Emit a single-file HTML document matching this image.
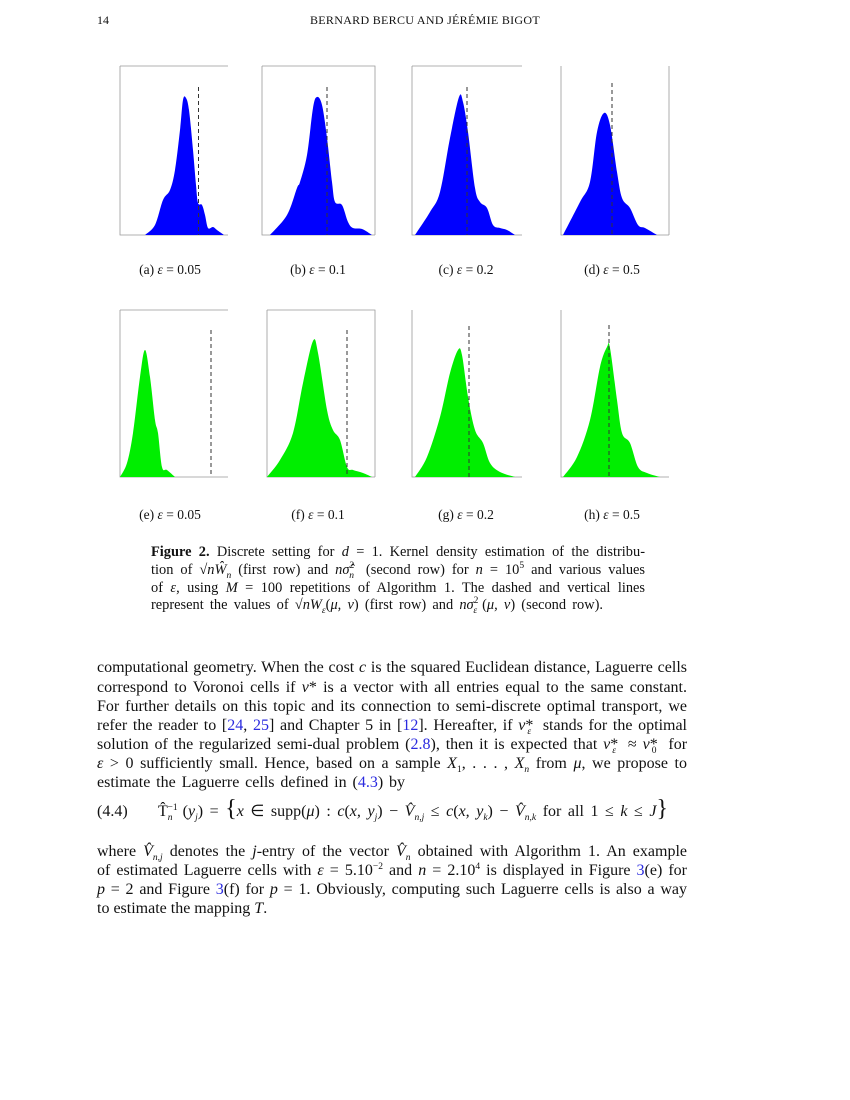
<!DOCTYPE html>
<html><head><meta charset="utf-8"><style>
body{margin:0;background:#fff;width:850px;height:1100px;position:relative;overflow:hidden;font-family:"Liberation Serif",serif;color:#111}
.l{position:absolute;left:97px;width:590px;font-size:16px;line-height:18px;white-space:nowrap;text-align:justify;text-align-last:justify}
.c{position:absolute;left:151px;width:494px;font-size:14.4px;line-height:16px;white-space:nowrap;text-align:justify;text-align-last:justify}
.cap{position:absolute;font-size:13.5px;width:130px;text-align:center}
sub,sup{font-size:9.5px;line-height:0;vertical-align:0;position:relative}
sub{top:4px}sup{top:-6px}
a{color:#2a2adf}
i{font-style:italic}
</style></head><body>
<div style="position:absolute;left:97px;top:13px;font-size:12px">14</div>
<div style="position:absolute;left:0;width:850px;top:13px;font-size:12px;text-align:center;letter-spacing:0.3px">BERNARD BERCU AND JÉRÉMIE BIGOT</div>

<svg width="850" height="500" style="position:absolute;left:0;top:0" xmlns="http://www.w3.org/2000/svg">
<g stroke="#999" stroke-width="0.8" fill="none">
<path d="M120 66H228M120 66V235H228"/>
<path d="M262 66H375V235M262 66V235H375"/>
<path d="M412 66H522M412 66V235H522"/>
<path d="M561 66V235H669M669 66V235"/>
<path d="M120 310H228M120 310V477H228"/>
<path d="M267 310H375V477M267 310V477H375"/>
<path d="M412 310V477H522"/>
<path d="M561 310V477H669"/>
</g>
<g fill="#0000ff" class="cv">
<path data-p="145,235 155,225 163,200 170,190 175,170 180,130 183,100 186,98 189,110 193,150 196,185 198,203 202,205 205,215 208,228 213,227 217,230 224,235"/>
<path data-p="270,235 287,215 297,188 300,182 307,155 313,108 317,97 322,105 327,138 332,182 335,202 342,205 348,222 353,228 362,229 372,235"/>
<path data-p="415,235 430,212 440,192 450,138 459,97 463,102 468,132 475,188 480,202 487,208 493,225 500,228 507,230 515,235"/>
<path data-p="563,235 580,202 590,182 597,132 604,113 610,125 617,172 622,198 630,208 638,225 645,228 657,235"/>
</g>
<g fill="#00ee00" class="cv">
<path data-p="120,477 127,463 133,433 140,377 145,350 150,377 155,420 158,433 162,467 167,470 175,477"/>
<path data-p="267,477 280,460 293,433 303,383 313,341 318,353 327,410 333,430 340,440 347,467 353,470 363,473 372,477"/>
<path data-p="415,477 427,457 440,417 450,373 458,350 462,355 468,397 475,430 483,443 490,463 500,472 515,477"/>
<path data-p="563,477 577,457 590,420 600,367 607,347 610,348 617,400 622,433 630,443 638,467 647,473 660,477"/>
</g>
<g stroke="#333" stroke-width="1" stroke-dasharray="4,3">
<path d="M198.5 87V235M327 87V235M467 87V235M612 83V235M211 330V477M347 330V477M469 326V477M609 325V477"/>
</g>
</svg>
<script>
document.querySelectorAll('.cv path').forEach(function(el){
var p=el.getAttribute('data-p').split(' ').map(function(s){return s.split(',').map(Number)});
var d='M'+p[0][0]+' '+p[0][1];
for(var i=0;i<p.length-1;i++){var p0=p[i-1]||p[i],p1=p[i],p2=p[i+1],p3=p[i+2]||p2;
var c1x=p1[0]+(p2[0]-p0[0])/6,c1y=p1[1]+(p2[1]-p0[1])/6,c2x=p2[0]-(p3[0]-p1[0])/6,c2y=p2[1]-(p3[1]-p1[1])/6;
d+='C'+c1x+' '+c1y+' '+c2x+' '+c2y+' '+p2[0]+' '+p2[1];}
el.setAttribute('d',d+'Z');});
</script>

<div class="cap" style="left:105px;top:262px">(a) <i>ε</i> = 0.05</div>
<div class="cap" style="left:253px;top:262px">(b) <i>ε</i> = 0.1</div>
<div class="cap" style="left:401px;top:262px">(c) <i>ε</i> = 0.2</div>
<div class="cap" style="left:547px;top:262px">(d) <i>ε</i> = 0.5</div>
<div class="cap" style="left:105px;top:507px">(e) <i>ε</i> = 0.05</div>
<div class="cap" style="left:253px;top:507px">(f) <i>ε</i> = 0.1</div>
<div class="cap" style="left:401px;top:507px">(g) <i>ε</i> = 0.2</div>
<div class="cap" style="left:547px;top:507px">(h) <i>ε</i> = 0.5</div>

<div class="c" style="top:544px"><b>Figure 2.</b> Discrete setting for <i>d</i> = 1. Kernel density estimation of the distribu-</div>
<div class="c" style="top:562px">tion of √<i>nŴ</i><sub><i>n</i></sub> (first row) and <i>nσ̂</i><sup>2</sup><sub style="left:-5px"><i>n</i></sub> (second row) for <i>n</i> = 10<sup>5</sup> and various values</div>
<div class="c" style="top:580px">of <i>ε</i>, using <i>M</i> = 100 repetitions of Algorithm 1. The dashed and vertical lines</div>
<div class="c" style="top:597px;width:452px">represent the values of √<i>nW</i><sub><i>ε</i></sub>(<i>μ, ν</i>) (first row) and <i>nσ</i><sup>2</sup><sub style="left:-5px"><i>ε</i></sub>(<i>μ, ν</i>) (second row).</div>

<div class="l" style="top:659px">computational geometry. When the cost <i>c</i> is the squared Euclidean distance, Laguerre cells</div>
<div class="l" style="top:679px">correspond to Voronoi cells if <i>v</i>* is a vector with all entries equal to the same constant.</div>
<div class="l" style="top:698px">For further details on this topic and its connection to semi-discrete optimal transport, we</div>
<div class="l" style="top:717px">refer the reader to [<a>24</a>, <a>25</a>] and Chapter 5 in [<a>12</a>]. Hereafter, if <i>v</i>*<sub style="left:-6px"><i>ε</i></sub> stands for the optimal</div>
<div class="l" style="top:736px">solution of the regularized semi-dual problem (<a>2.8</a>), then it is expected that <i>v</i>*<sub style="left:-6px"><i>ε</i></sub> ≈ <i>v</i>*<sub style="left:-6px">0</sub> for</div>
<div class="l" style="top:755px"><i>ε</i> &gt; 0 sufficiently small. Hence, based on a sample <i>X</i><sub>1</sub>, . . . , <i>X</i><sub><i>n</i></sub> from <i>μ</i>, we propose to</div>
<div class="l" style="top:774px;width:308px">estimate the Laguerre cells defined in (<a>4.3</a>) by</div>

<div class="l" style="top:803px;width:40px;text-align:left;text-align-last:left">(4.4)</div>
<div class="l" style="left:158px;top:803px;width:510px">T̂<sub><i>n</i></sub><sup style="left:-5px">−1</sup>(<i>y</i><sub><i>j</i></sub>) = <span style="font-size:24px;line-height:0">{</span><i>x</i> ∈ supp(<i>μ</i>) : <i>c</i>(<i>x, y</i><sub><i>j</i></sub>) − <i>V̂</i><sub><i>n,j</i></sub> ≤ <i>c</i>(<i>x, y</i><sub><i>k</i></sub>) − <i>V̂</i><sub><i>n,k</i></sub> for all 1 ≤ <i>k</i> ≤ <i>J</i><span style="font-size:24px;line-height:0">}</span></div>

<div class="l" style="top:843px">where <i>V̂</i><sub><i>n,j</i></sub> denotes the <i>j</i>-entry of the vector <i>V̂</i><sub><i>n</i></sub> obtained with Algorithm 1. An example</div>
<div class="l" style="top:862px">of estimated Laguerre cells with <i>ε</i> = 5.10<sup>−2</sup> and <i>n</i> = 2.10<sup>4</sup> is displayed in Figure <a>3</a>(e) for</div>
<div class="l" style="top:881px"><i>p</i> = 2 and Figure <a>3</a>(f) for <i>p</i> = 1. Obviously, computing such Laguerre cells is also a way</div>
<div class="l" style="top:900px;width:190px;text-align:left;text-align-last:left">to estimate the mapping <i>T</i>.</div>
</body></html>
